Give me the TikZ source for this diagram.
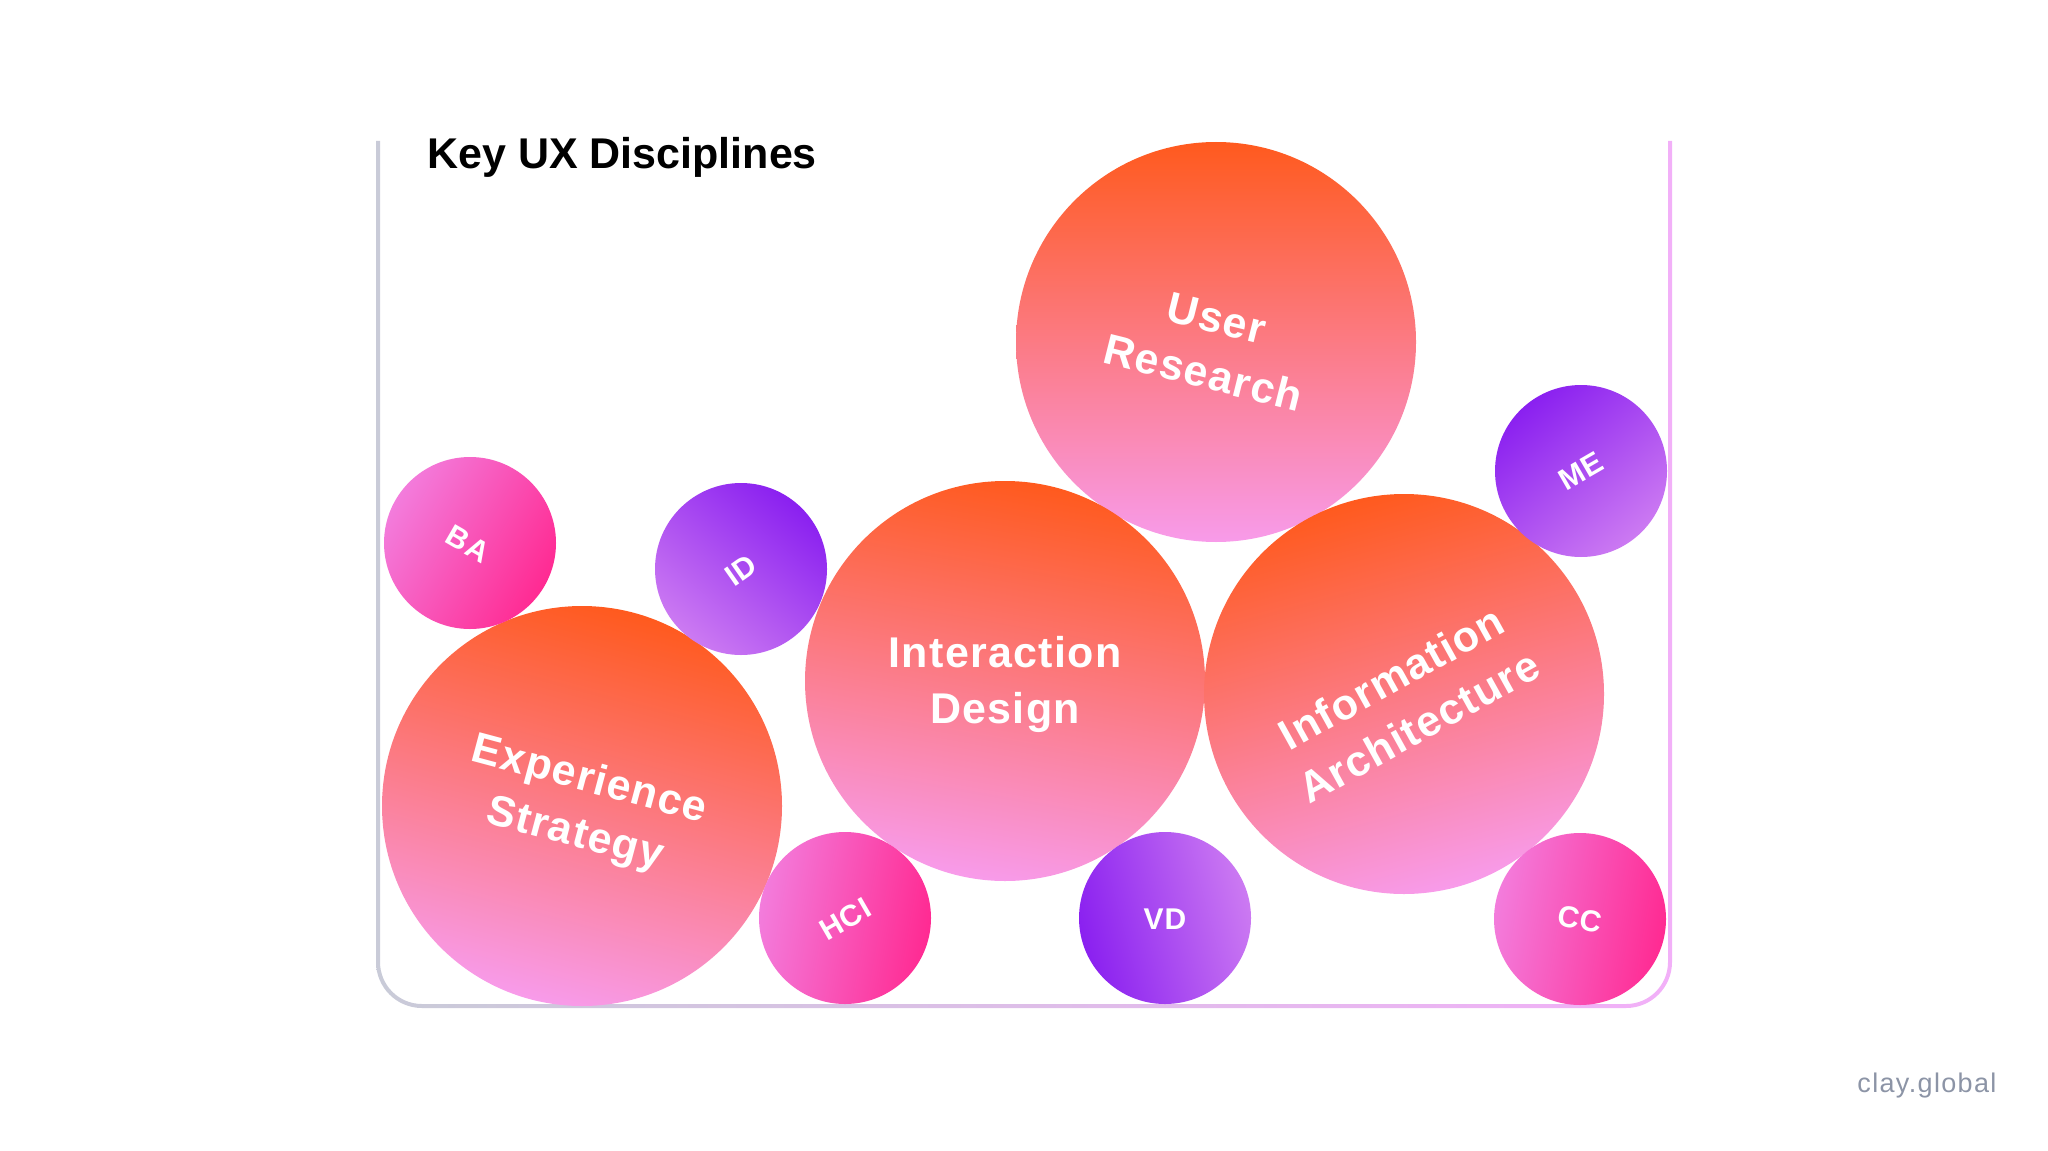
\documentclass[tikz,border=0pt]{standalone}
\usepackage{fontspec}
\setmainfont{Liberation Sans}
\newfontfamily\bubblefont{Liberation Sans}[LetterSpace=3.0]
\newfontfamily\creditfont{Liberation Sans}[LetterSpace=5.0]
\usepackage{tikz}
\usetikzlibrary{positioning}
\usepackage{xcolor}

\definecolor{sunset}{HTML}{FF5A1E}
\definecolor{blush}{HTML}{F89BEA}
\definecolor{rosedeep}{HTML}{FF2A92}
\definecolor{roselight}{HTML}{F37CDC}
\definecolor{violetdeep}{HTML}{8A20F0}
\definecolor{violetlight}{HTML}{CC7AF2}
\definecolor{framegray}{HTML}{C9CBD8}
\definecolor{framepink}{HTML}{F2B0F8}
\definecolor{creditgray}{HTML}{8C94A6}

\tikzset{
  bigdisc/.style={top color=sunset, bottom color=blush},
  pinkdisc/.style={top color=rosedeep, bottom color=roselight, shading angle=-100},
  violetdisc/.style={top color=violetdeep, bottom color=violetlight},
  biglabel/.style={text=white, align=center,
    font=\bubblefont\bfseries\fontsize{21.5}{28}\selectfont},
  smalllabel/.style={text=white,
    font=\bubblefont\bfseries\fontsize{15}{18}\selectfont},
}

\begin{document}
\begin{tikzpicture}[x=0.5pt,y=-0.5pt]
        \def\rbig{200}
        \def\rsmall{86}

        \useasboundingbox (0,0) rectangle (2048,1150);

        %------------------
        % frame (open at the top)
        %------------------

        \shade[left color=framegray, right color=framepink]
          (376,141) -- (376,962) arc[start angle=180, end angle=90, radius=46]
          -- (1626,1008) arc[start angle=90, end angle=0, radius=46]
          -- (1672,141) -- (1668,141) -- (1668,962)
          arc[start angle=0, end angle=90, radius=42]
          -- (422,1004) arc[start angle=90, end angle=180, radius=42]
          -- (380,141) -- cycle;

        % title
        \node[anchor=base west, inner sep=0pt,
          font=\bfseries\fontsize{21.5}{25}\selectfont]
          (title) at (427,169) {Key UX Disciplines};

        %------------------
        % large discs
        %------------------

        \shade[bigdisc] (1216,342) circle[radius=\rbig];
        \shade[bigdisc, shading angle=-10] (1005,681) circle[radius=\rbig];
        \shade[bigdisc, shading angle=15] (1404,694) circle[radius=\rbig];
        \shade[bigdisc, shading angle=-15] (582,806) circle[radius=\rbig];

        %------------------
        % small discs
        %------------------

        \shade[pinkdisc, shading angle=-120] (470,543) circle[radius=\rsmall];
        \shade[pinkdisc] (845,918) circle[radius=\rsmall];
        \shade[pinkdisc] (1580,919) circle[radius=\rsmall];

        \shade[violetdisc, shading angle=-40] (741,569) circle[radius=\rsmall];
        \shade[violetdisc, shading angle=105] (1165,918) circle[radius=\rsmall];
        \shade[violetdisc, shading angle=40] (1581,471) circle[radius=\rsmall];

        %------------------
        % labels
        %------------------

        \node[biglabel, rotate=-14] (ur) at (1210,346) {User\\Research};
        \node[biglabel] (ixd) at (1005,684) {Interaction\\Design};
        \node[biglabel, rotate=29] (ia) at (1405,702) {Information\\Architecture};
        \node[biglabel, rotate=-15] (es) at (582,808) {Experience\\Strategy};

        \node[smalllabel, rotate=-30] (ba) at (468,544) {BA};
        \node[smalllabel, rotate=35] (id) at (741,570) {ID};
        \node[smalllabel, rotate=30] (hci) at (845,919) {HCI};
        \node[smalllabel] (vd) at (1165,919) {VD};
        \node[smalllabel, rotate=-10] (cc) at (1580,919) {CC};
        \node[smalllabel, rotate=30] (me) at (1581,471) {ME};

        % credit
        \node[anchor=base west, inner sep=0pt, text=creditgray,
          font=\creditfont\fontsize{13.5}{16}\selectfont]
          (credit) at (1857,1092) {clay.global};
\end{tikzpicture}
\end{document}
